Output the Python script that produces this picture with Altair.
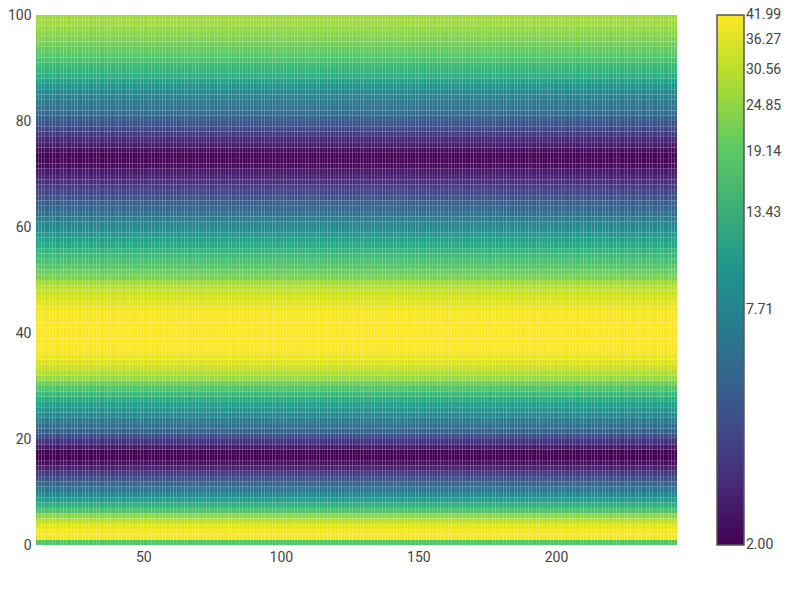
import altair as alt
import pandas as pd

# column positions (x) and row positions (y) of the heatmap cells
x_cols = list(range(11, 244))
y_rows = list(range(0, 100))

# value of each row (bottom to top)
row_values = [
    17.9, 39.5, 40.7, 37.2, 31.0, 25.0, 17.9, 14.0, 10.7, 8.37,
    6.55, 5.30, 4.28, 3.36, 2.63, 2.26, 2.00, 2.00, 2.40, 3.06,
    4.03, 4.98, 5.98, 6.97, 8.11, 9.45, 11.0, 13.2, 15.4, 17.9,
    21.5, 25.8, 29.1, 32.9, 36.05, 38.3, 40.7, 41.5, 41.99, 41.99,
    41.99, 41.5, 40.7, 40.7, 39.5, 37.2, 35.0, 32.9, 31.0, 27.4,
    22.8, 20.8, 19.0, 17.4, 15.9, 14.5, 12.8, 11.3, 10.0, 8.89,
    7.87, 6.97, 6.17, 5.46, 4.84, 4.28, 3.79, 3.36, 2.97, 2.71,
    2.40, 2.19, 2.06, 2.06, 2.19, 2.48, 2.80, 3.26, 3.68, 4.28,
    4.98, 5.63, 6.17, 6.76, 7.41, 8.11, 9.45, 11.3, 13.2, 14.5,
    15.9, 17.4, 19.0, 20.2, 21.5, 22.8, 24.3, 25.8, 26.6, 27.4,
]

legend_ticks = [2.00, 7.71, 13.43, 19.14, 24.85, 30.56, 36.27, 41.99]
x_ticks = [50, 100, 150, 200]
y_ticks = [0, 20, 40, 60, 80, 100]

rows = pd.DataFrame({"y": y_rows, "v": row_values})
cols = pd.DataFrame({"x": x_cols})
df = cols.merge(rows, how="cross")

chart = (
    alt.Chart(df)
    .transform_calculate(x2="datum.x + 1", y2="datum.y + 1")
    .mark_rect()
    .encode(
        x=alt.X(
            "x:Q",
            scale=alt.Scale(domain=[11, 244], nice=False, zero=False),
            axis=alt.Axis(values=x_ticks, title=None, grid=False, domain=False,
                          ticks=False, labelPadding=5),
        ),
        x2="x2:Q",
        y=alt.Y(
            "y:Q",
            scale=alt.Scale(domain=[0, 100], nice=False, zero=False),
            axis=alt.Axis(values=y_ticks, title=None, grid=False, domain=False,
                          ticks=False, labelPadding=5),
        ),
        y2="y2:Q",
        color=alt.Color(
            "v:Q",
            scale=alt.Scale(type="log", scheme="viridis", domain=[1.9999, 41.9901]),
            legend=alt.Legend(
                values=legend_ticks, format=".2f", title=None,
                labelOverlap=False,
            ),
        ),
    )
    .properties(
        width=641,
        height=530,
        autosize=alt.AutoSizeParams(type="none"),
        padding={"left": 28, "top": 7, "right": 115, "bottom": 30},
    )
    .configure(font="Roboto")
    .configure_view(strokeWidth=0)
    .configure_axis(labelFontSize=14, labelColor="#444", labelFont="Roboto")
    .configure_legend(
        orient="right",
        offset=40,
        padding=0,
        gradientLength=530,
        gradientThickness=27,
        gradientStrokeColor="#555",
        gradientStrokeWidth=1.5,
        labelFontSize=14,
        labelColor="#444",
        labelFont="Roboto",
        labelOffset=6,
    )
)

chart.save("out.html", embed_options={"renderer": "svg", "actions": False})
